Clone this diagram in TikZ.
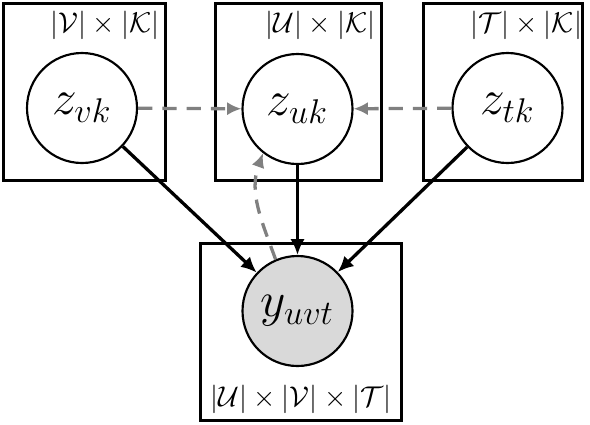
\documentclass[tikz,border=0pt]{standalone}
\usetikzlibrary{arrows.meta}
\begin{document}
\begin{tikzpicture}[x=0.35pt,y=-0.35pt,
  plate/.style={draw,line width=1.3pt,rectangle,inner sep=0pt,minimum height={177*0.35pt}},
  latent/.style={draw,circle,line width=0.75pt,minimum size={110*0.35pt},inner sep=0pt,font=\LARGE},
  obs/.style={latent,fill=gray!30},
  platelabel/.style={inner sep=0pt,font=\normalsize},
  solidarrow/.style={line width=1.15pt,-{Latex[length=5.5pt,width=5pt]}},
  dasharrow/.style={line width=1.15pt,gray,dash pattern=on 5pt off 3.5pt,-{Latex[length=5pt,width=4.6pt]}}
]
\useasboundingbox (0,0) rectangle (590,424);
% plates
\node[plate,minimum width={162*0.35pt}] (P1) at (84.5,92) {};
\node[plate,minimum width={166*0.35pt}] (P2) at (298.5,92) {};
\node[plate,minimum width={159*0.35pt}] (P3) at (503,92) {};
\node[plate,minimum width={201*0.35pt}] (P4) at (301,332) {};
% plate labels
\node[platelabel,anchor=north east] (L1) at ([xshift=-2.6pt,yshift=-3pt]P1.north east) {$|\mathcal{V}|\times|\mathcal{K}|$};
\node[platelabel,anchor=north east] (L2) at ([xshift=-2.6pt,yshift=-3pt]P2.north east) {$|\mathcal{U}|\times|\mathcal{K}|$};
\node[platelabel,anchor=north east] (L3) at ([xshift=-0.6pt,yshift=-3pt]P3.north east) {$|\mathcal{T}|\times|\mathcal{K}|$};
\node[platelabel,anchor=south] (L4) at ([yshift=3pt]P4.south) {$|\mathcal{U}|\times|\mathcal{V}|\times|\mathcal{T}|$};
% variables
\node[latent] (zv) at (82,108) {$z_{vk}$};
\node[latent] (zu) at (297.5,109) {$z_{uk}$};
\node[latent] (zt) at (507.5,108) {$z_{tk}$};
\node[obs] (y) at (297.5,311) {$y_{uvt}$};
% edges
\draw[solidarrow] (zv) -- (y);
\draw[solidarrow] (zu) -- (y);
\draw[solidarrow] (zt) -- (y);
\draw[dasharrow] (zv) -- (zu);
\draw[dasharrow] (zt) -- (zu);
\draw[dasharrow] (y.113) to[out=110,in=250] (zu.232);
\end{tikzpicture}
\end{document}
